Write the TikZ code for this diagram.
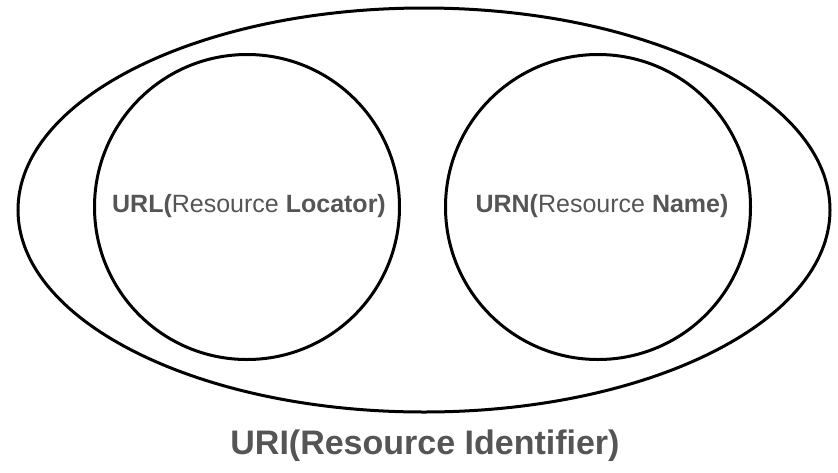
\documentclass[tikz,border=0pt]{standalone}
\usepackage{fontspec}
\usetikzlibrary{shapes.geometric}
\setmainfont{Liberation Sans}
\definecolor{tg}{HTML}{555555}
\begin{document}
\begin{tikzpicture}[x=1pt,y=-1pt,line width=3pt,
  lbl/.style={text=tg,font=\fontsize{25}{28}\selectfont}]
\useasboundingbox (0,0) rectangle (838,472);
\node[draw,ellipse,minimum width=812pt,minimum height=404pt,inner sep=0pt] (uri) at (424,210) {};
\node[draw,circle,minimum size=305pt,inner sep=0pt] (url) at (247,207) {};
\node[draw,circle,minimum size=305pt,inner sep=0pt] (urn) at (598,207) {};
\node[lbl] (tl) at (249,206) {\textbf{URL(}Resource \textbf{Locator)}};
\node[lbl] (tn) at (602,206) {\textbf{URN(}Resource \textbf{Name)}};
\node[text=tg,font=\fontsize{34}{38}\selectfont\bfseries] (tu) at (425,446) {URI(Resource Identifier)};
\end{tikzpicture}
\end{document}
